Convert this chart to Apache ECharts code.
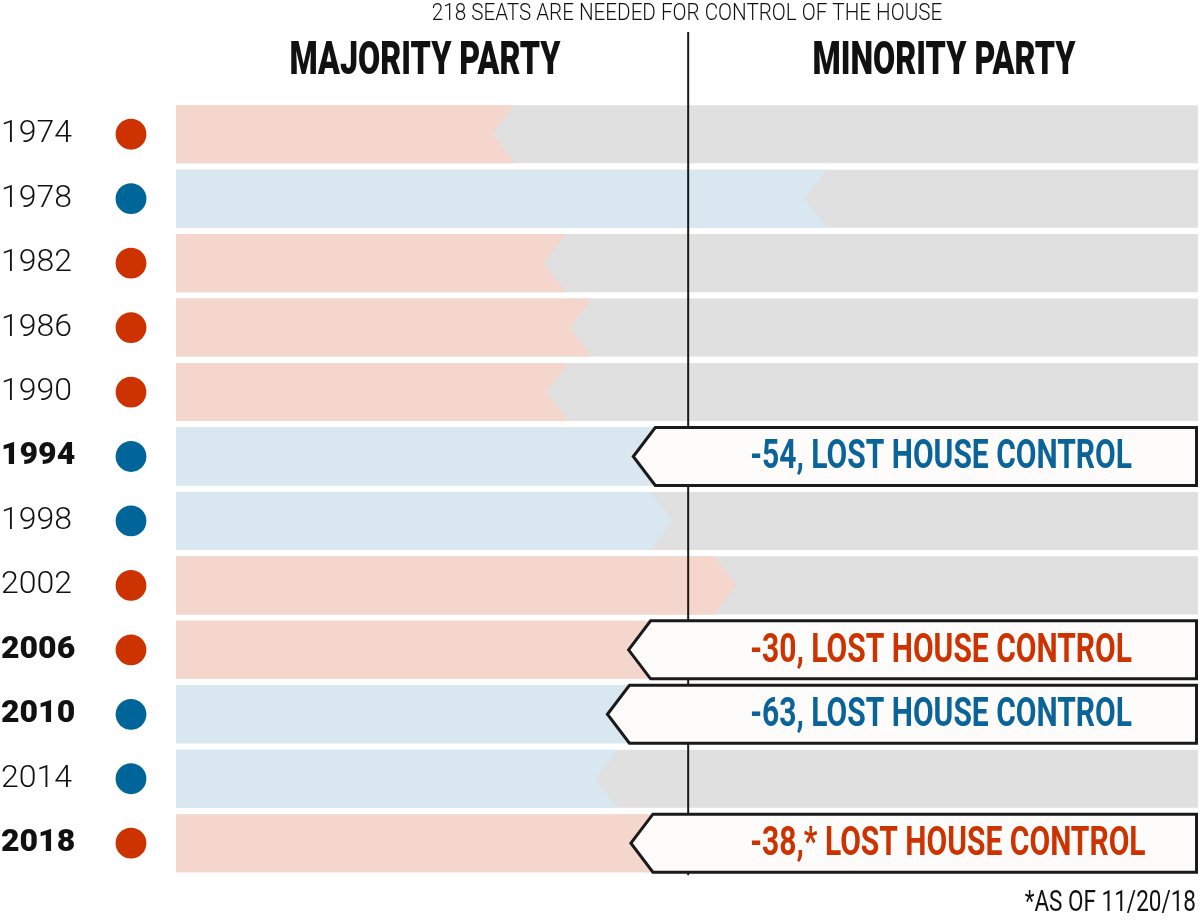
<!DOCTYPE html>
<html>
<head>
<meta charset="utf-8">
<script src="https://cdn.jsdelivr.net/npm/echarts@6/dist/echarts.min.js"></script>
<style>
  html, body { margin: 0; padding: 0; background: #ffffff; }
  #chart { width: 1200px; height: 922px; }
</style>
</head>
<body>
<div id="chart"></div>
<script>
// ---------------- DATA ----------------
const years = ['1974', '1978', '1982', '1986', '1990', '1994', '1998', '2002', '2006', '2010', '2014', '2018'];
const presidentParty = ['R', 'D', 'R', 'R', 'R', 'D', 'D', 'R', 'R', 'D', 'D', 'R'];
const seatsAfter = [144, 277, 166, 177, 167, 204, 202, 229, 202, 193, 188, 203];
const seatChange = [-48, -15, -26, -5, -8, -54, 5, 8, -30, -63, -13, -38];
const lostControl = [false, false, false, false, false, true, false, false, true, true, false, true];
const boxLabels = ['', '', '', '', '', '-54, LOST HOUSE CONTROL', '', '', '-30, LOST HOUSE CONTROL', '-63, LOST HOUSE CONTROL', '', '-38,* LOST HOUSE CONTROL'];
const TOTAL_SEATS = 435;
const MAJORITY_SEATS = 218;
const subtitleText = '218 SEATS ARE NEEDED FOR CONTROL OF THE HOUSE';
const headerLeft = 'MAJORITY PARTY';
const headerRight = 'MINORITY PARTY';
const footnote = '*AS OF 11/20/18';

// ---------------- STYLE ----------------
const PINK = '#f5d6cd';
const LBLUE = '#d9e7f0';
const GRAY = '#e0e0e0';
const RED = '#cc3300';
const BLUE = '#006699';
const TEXT_BLUE = '#0a6499';
const NOTCH = 22;

const chart = echarts.init(document.getElementById('chart'));

function barItem(params, api) {
  const i = api.value(0);
  const seats = api.value(1);
  const change = api.value(2);
  const p0 = api.coord([0, i]);
  const x0 = p0[0], yc = p0[1];
  const xEnd = api.coord([TOTAL_SEATS, i])[0];
  const xv = api.coord([seats, i])[0];
  const h = api.size([0, 1])[1] * 0.9;
  const top = yc - h / 2, bot = yc + h / 2;
  const fill = presidentParty[i] === 'R' ? PINK : LBLUE;
  const tip = change < 0 ? xv - NOTCH : xv + NOTCH;
  const pts = [[x0, top], [xv, top], [tip, yc], [xv, bot], [x0, bot]];
  return {
    type: 'group',
    children: [
      { type: 'rect', shape: { x: x0, y: top, width: xEnd - x0, height: h }, style: { fill: GRAY } },
      { type: 'polygon', shape: { points: pts }, style: { fill: fill } },
      { type: 'circle', shape: { cx: x0 - 45, cy: yc, r: 15.4 }, style: { fill: presidentParty[i] === 'R' ? RED : BLUE } }
    ]
  };
}

function lineItem(params, api) {
  const x = api.coord([api.value(0), 0])[0];
  const h = api.size([0, 1])[1] * 0.9;
  const yb = api.coord([api.value(0), years.length - 1])[1] + h / 2 + 3;
  return {
    type: 'line',
    shape: { x1: x, y1: 32, x2: x, y2: yb },
    style: { stroke: '#1a1a1a', lineWidth: 2 }
  };
}

function boxItem(params, api) {
  const i = api.value(0);
  const seats = api.value(1);
  const p0 = api.coord([seats, i]);
  const xv = p0[0], yc = p0[1];
  const xEnd = api.coord([TOTAL_SEATS, i])[0];
  const xText = api.coord([MAJORITY_SEATS, i])[0] + 62;
  const h = api.size([0, 1])[1] * 0.9;
  const top = yc - h / 2, bot = yc + h / 2;
  const pts = [[xv - NOTCH, yc], [xv, top], [xEnd - 1.5, top], [xEnd - 1.5, bot], [xv, bot]];
  const col = presidentParty[i] === 'R' ? RED : TEXT_BLUE;
  return {
    type: 'group',
    children: [
      { type: 'polygon', shape: { points: pts }, style: { fill: '#fdfcfb', stroke: '#1a1a1a', lineWidth: 3, lineJoin: 'miter' } },
      {
        type: 'text', x: xText, y: yc + 2, scaleX: 0.75,
        style: {
          text: boxLabels[i], fill: col, fontFamily: 'Roboto', fontWeight: 'bold', fontSize: 40,
          textAlign: 'left', align: 'left', textVerticalAlign: 'middle', verticalAlign: 'middle'
        }
      }
    ]
  };
}

const barData = years.map((y, i) => [i, seatsAfter[i], seatChange[i]]);
const boxData = years.map((y, i) => [i, seatsAfter[i], seatChange[i]]).filter((d) => lostControl[d[0]]);

const option = {
  animation: false,
  backgroundColor: '#ffffff',
  grid: { left: 176, right: 2, top: 102, bottom: 46.6, containLabel: false, outerBoundsMode: 'none' },
  xAxis: {
    type: 'value', min: 0, max: TOTAL_SEATS, show: false
  },
  yAxis: {
    type: 'category', data: years, inverse: true,
    axisLine: { show: false }, axisTick: { show: false }, splitLine: { show: false },
    axisLabel: {
      align: 'left', margin: 175,
      formatter: (v, idx) => (lostControl[idx] ? '{b|' + v + '}' : '{n|' + v + '}'),
      rich: {
        n: { fontFamily: 'Roboto', fontWeight: 300, fontSize: 32, color: '#111' },
        b: { fontFamily: 'Roboto', fontWeight: 900, fontSize: 32, color: '#111' }
      }
    }
  },
  series: [
    { type: 'custom', z: 1, renderItem: barItem, data: barData, encode: { x: 1, y: 0 }, silent: true },
    { type: 'custom', z: 2, renderItem: lineItem, data: [[MAJORITY_SEATS]], encode: { x: 0 }, silent: true },
    { type: 'custom', z: 3, renderItem: boxItem, data: boxData, encode: { x: 1, y: 0 }, silent: true }
  ],
  graphic: [
    { type: 'text', x: 687, y: 14, scaleX: 0.86, style: { text: subtitleText, fill: '#111', fontFamily: 'Roboto', fontWeight: 300, fontSize: 24, textAlign: 'center', align: 'center', textVerticalAlign: 'middle', verticalAlign: 'middle' } },
    { type: 'text', x: 425, y: 62, scaleX: 0.7, style: { text: headerLeft, fill: '#111', fontFamily: 'Roboto', fontWeight: 900, fontSize: 46, textAlign: 'center', align: 'center', textVerticalAlign: 'middle', verticalAlign: 'middle' } },
    { type: 'text', x: 944, y: 62, scaleX: 0.7, style: { text: headerRight, fill: '#111', fontFamily: 'Roboto', fontWeight: 900, fontSize: 46, textAlign: 'center', align: 'center', textVerticalAlign: 'middle', verticalAlign: 'middle' } },
    { type: 'text', x: 1196, y: 903, scaleX: 0.75, style: { text: footnote, fill: '#111', fontFamily: 'Roboto', fontWeight: 'normal', fontSize: 30, textAlign: 'right', align: 'right', textVerticalAlign: 'middle', verticalAlign: 'middle' } }
  ]
};

chart.setOption(option);
</script>
</body>
</html>
